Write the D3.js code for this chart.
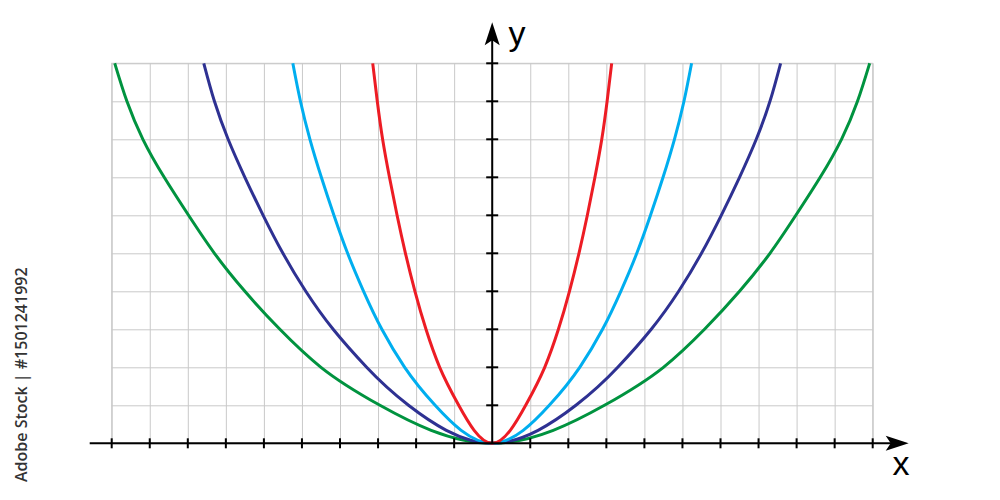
<!DOCTYPE html>
<html>
<head>
<meta charset="utf-8">
<script src="https://cdn.jsdelivr.net/npm/d3@7"></script>
<style>
  body { margin: 0; background: #fff; }
  svg { display: block; font-family: 'Liberation Sans', Arial, sans-serif; }
</style>
</head>
<body>
<svg width="1000" height="500"></svg>
<script>
// heights where the curves cross the horizontal grid lines
const levels = [0, 1, 2, 3, 4, 5, 6, 7, 8, 9, 10];
// half widths (x units) read at each level, curves are symmetric about x = 0
const redX   = [0, 0.88, 1.38, 1.74, 2.03, 2.28, 2.50, 2.70, 2.88, 3.02, 3.14];
const cyanX  = [0, 1.50, 2.30, 2.90, 3.38, 3.80, 4.16, 4.49, 4.79, 5.04, 5.24];
const navyX  = [0, 2.20, 3.30, 4.18, 4.90, 5.50, 6.02, 6.50, 6.94, 7.30, 7.58];
const greenX = [0, 2.95, 4.50, 5.58, 6.50, 7.30, 7.98, 8.62, 9.18, 9.60, 9.92];

const xTicks = d3.range(-10, 11);
const yTicks = d3.range(1, 11);

const series = [
  { name: 'green', values: greenX, color: '#00933f' },
  { name: 'navy', values: navyX, color: '#2e3192' },
  { name: 'cyan', values: cyanX, color: '#00aeef' },
  { name: 'red', values: redX, color: '#ed1c24' }
];

const margin = { left: 111.7, right: 127.3, top: 63.3, bottom: 56.7 };
const svg = d3.select('svg');
const width = +svg.attr('width');
const height = +svg.attr('height');
const innerWidth = width - margin.left - margin.right;
const innerHeight = height - margin.top - margin.bottom;

svg.append('rect').attr('width', width).attr('height', height).attr('fill', '#fff');

const g = svg.append('g')
    .attr('transform', `translate(${margin.left},${margin.top})`);

const xScale = d3.scaleLinear().domain([-10, 10]).range([0, innerWidth]);
const yScale = d3.scaleLinear().domain([0, 10]).range([innerHeight, 0]);

// grid
const xGrid = g.append('g')
    .attr('transform', `translate(0,${innerHeight})`)
    .call(d3.axisBottom(xScale).tickValues(xTicks).tickSize(-innerHeight).tickFormat(''));
const yGrid = g.append('g')
    .call(d3.axisLeft(yScale).tickValues([0].concat(yTicks)).tickSize(-innerWidth).tickFormat(''));
[xGrid, yGrid].forEach(a => {
  a.select('.domain').remove();
  a.selectAll('line').attr('stroke', '#c9c9c9').attr('stroke-width', 1);
});
g.append('rect')
    .attr('width', innerWidth).attr('height', innerHeight)
    .attr('fill', 'none').attr('stroke', '#c9c9c9').attr('stroke-width', 1);

// curves
const line = d3.line()
    .x(d => xScale(d[0]))
    .y(d => yScale(d[1]))
    .curve(d3.curveNatural);

series.forEach(s => {
  const pts = [];
  for (let i = levels.length - 1; i > 0; i--) pts.push([-s.values[i], levels[i]]);
  pts.push([0, 0]);
  for (let i = 1; i < levels.length; i++) pts.push([s.values[i], levels[i]]);
  g.append('path')
      .attr('fill', 'none')
      .attr('stroke', s.color)
      .attr('stroke-width', 3)
      .attr('d', line(pts));
});

// axes
const x0 = xScale(0), y0 = yScale(0);
const axes = g.append('g').attr('stroke', '#000').attr('fill', '#000');
axes.append('line')
    .attr('x1', xScale(-10) - 22).attr('x2', xScale(10) + 22)
    .attr('y1', y0).attr('y2', y0).attr('stroke-width', 2);
axes.append('line')
    .attr('x1', x0).attr('x2', x0)
    .attr('y1', y0).attr('y2', yScale(10) - 26).attr('stroke-width', 2);

const ax = xScale(10) + 36;
axes.append('path')
    .attr('stroke', 'none')
    .attr('d', `M${ax},${y0} L${ax - 23},${y0 - 7.5} L${ax - 18},${y0} L${ax - 23},${y0 + 7.5} Z`);
const ay = yScale(10) - 41;
axes.append('path')
    .attr('stroke', 'none')
    .attr('d', `M${x0},${ay} L${x0 - 7.5},${ay + 23} L${x0},${ay + 18} L${x0 + 7.5},${ay + 23} Z`);

axes.selectAll('.xt')
  .data(xTicks.filter(d => d !== 0))
  .join('line')
    .attr('class', 'xt')
    .attr('x1', d => xScale(d)).attr('x2', d => xScale(d))
    .attr('y1', y0 - 5).attr('y2', y0 + 5)
    .attr('stroke-width', 2);
axes.selectAll('.yt')
  .data(yTicks)
  .join('line')
    .attr('class', 'yt')
    .attr('x1', x0 - 6).attr('x2', x0 + 6)
    .attr('y1', d => yScale(d)).attr('y2', d => yScale(d))
    .attr('stroke-width', 2);

// axis labels
svg.append('text')
    .attr('x', 901).attr('y', 475)
    .attr('text-anchor', 'middle')
    .style('font-size', '34px')
    .text('x');
svg.append('text')
    .attr('x', 517).attr('y', 45)
    .attr('text-anchor', 'middle')
    .style('font-size', '34px')
    .text('y');

// stock credit line
svg.append('text')
    .attr('transform', 'translate(27,482) rotate(-90)')
    .style('font-family', "'Open Sans', sans-serif")
    .style('font-size', '16px')
    .style('font-weight', 600)
    .attr('fill', '#333')
    .text('Adobe Stock | #1501241992');
</script>
</body>
</html>
